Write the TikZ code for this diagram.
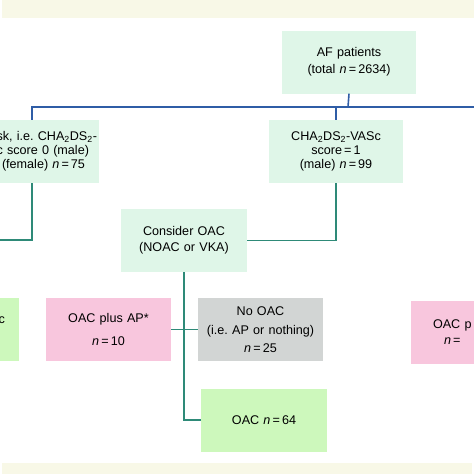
\documentclass[tikz,border=0pt]{standalone}
\usepackage{fontspec}
\setmainfont{Liberation Sans}
\frenchspacing
\definecolor{mint}{HTML}{DFF6E8}
\definecolor{rose}{HTML}{F8C6DD}
\definecolor{stone}{HTML}{D2D5D4}
\definecolor{lime}{HTML}{CDF8BC}
\definecolor{cream}{HTML}{F8F8E7}
\definecolor{treeblue}{HTML}{2F5DA6}
\definecolor{treeteal}{HTML}{2E8A78}
\begin{document}
\begin{tikzpicture}[x=1pt, y=-1pt,
  every node/.style={font=\fontsize{12.6}{13.8}\selectfont, inner sep=2pt, align=center},
  box/.style={minimum height=63pt, text width=#1},
  blueline/.style={draw=treeblue, line width=1.6pt},
  tealline/.style={draw=treeteal, line width=1.6pt}]
\clip (0,0) rectangle (474,474);
\fill[cream] (2,0) rectangle (474,18);
\fill[cream] (2,463) rectangle (472,474);

\node[box=130pt, fill=mint] (A) at (349, 62) {AF patients\\[3pt] (total \textit{n}\,=\,2634)};
\node[box=130pt, fill=mint, align=right] (B) at (32, 151.5) {sk, i.e. CHA\textsubscript{2}DS\textsubscript{2}-\\ c score 0 (male)\hspace*{8pt}\mbox{}\\ (female) \textit{n}\,=\,75\hspace*{12pt}\mbox{}};
\node[box=130pt, fill=mint] (C) at (336, 151.5) {CHA\textsubscript{2}DS\textsubscript{2}-VASc\\ score\,=\,1\\ (male) \textit{n}\,=\,99};
\node[box=122pt, fill=mint] (D) at (184, 240.5) {Consider OAC\\[2pt] (NOAC or VKA)};
\node[box=121pt, fill=rose] (E) at (108.5, 329.5) {OAC plus AP*\\[10pt] \textit{n}\,=\,10};
\node[box=121pt, fill=stone] (F) at (260.5, 329.5) {No OAC\\[5pt] (i.e. AP or nothing)\\[4pt] \textit{n}\,=\,25};
\node[box=122pt, fill=lime] (G) at (264, 420) {OAC \textit{n}\,=\,64};
\node[box=121pt, fill=lime, align=right] (H) at (-43.5, 329.5) {c\hspace*{12pt}\mbox{}\\ \strut};
\node[box=121pt, fill=rose, align=left] (I) at (473.5, 332) {\hspace*{20pt}OAC p\\[3pt] \hspace*{31pt}\textit{n}\,=};

\coordinate (J) at (348, 107);
\coordinate (R) at (474, 107);
\coordinate (L) at (0, 240);

\draw[blueline] (A.south) -- (J);
\draw[blueline] (R) -- (J) -| (B.north);
\draw[blueline] (J) -| (C.north);
\draw[tealline] (B.south) |- (L);
\draw[tealline] (C.south) |- (D.east);
\draw[tealline] (D.south) |- (G.west);
\draw[tealline] (E.east) -- (F.west);
\end{tikzpicture}
\end{document}
